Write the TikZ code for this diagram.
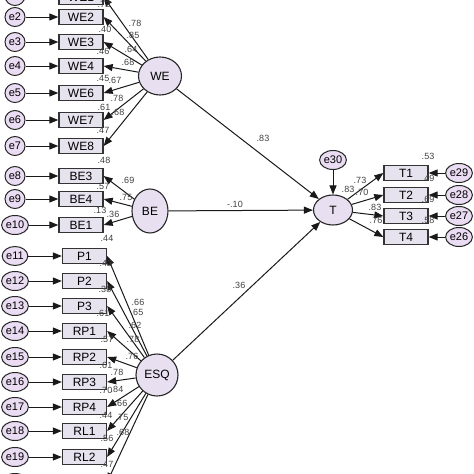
\documentclass[tikz,border=0pt]{standalone}
\usepackage{fontspec}
\setmainfont{Liberation Sans}
\usetikzlibrary{shapes.geometric,arrows.meta}

\definecolor{latfill}{HTML}{E8E0F1}
\definecolor{boxfill}{HTML}{E6E3EF}
\definecolor{errfill}{HTML}{EADCF2}

\begin{document}
\begin{tikzpicture}[x=1pt, y=-1pt,
    lat/.style={ellipse, draw=black!85, fill=latfill, line width=1.1pt, inner sep=0pt, font=\fontsize{12}{13}\selectfont},
    obs/.style={rectangle, draw=black!80, fill=boxfill, line width=1.3pt, minimum width=44pt, minimum height=15pt, inner sep=0pt, font=\fontsize{12}{13}\selectfont},
    err/.style={ellipse, draw=black!85, fill=errfill, line width=1pt, minimum width=20pt, minimum height=19pt, inner sep=0.3pt, font=\fontsize{11}{12}\selectfont},
    coef/.style={inner sep=0pt, text=black!75, font=\fontsize{9}{10}\selectfont},
    path/.style={-{Triangle[length=9pt,width=7pt]}, line width=1pt, draw=black!90}]
    \useasboundingbox (0,0) rectangle (474,474);
    \clip (0,0) rectangle (474,474);

    % latent variables
    \node[lat, minimum width=43pt, minimum height=38pt] (WE) at (160,76) {WE};
    \node[lat, minimum width=36pt, minimum height=44pt] (BE) at (150,211) {BE};
    \node[lat, minimum width=42pt, minimum height=42pt] (ESQ) at (157,375) {ESQ};
    \node[lat, minimum width=39pt, minimum height=30pt] (T) at (333,210) {T};
    \node[err] (e30) at (333,160) {e30};

    % WE indicators
    \node[obs] (WE1) at (81,-3) {WE1};
    \node[obs] (WE2) at (81,17) {WE2};
    \node[obs] (WE3) at (81,42) {WE3};
    \node[obs] (WE4) at (81,66) {WE4};
    \node[obs] (WE6) at (81,93) {WE6};
    \node[obs] (WE7) at (81,120) {WE7};
    \node[obs] (WE8) at (81,146) {WE8};
    \node[err] (e1) at (15,-4) {e1};
    \node[err] (e2) at (15,17) {e2};
    \node[err] (e3) at (15,42) {e3};
    \node[err] (e4) at (15,66) {e4};
    \node[err] (e5) at (15,93) {e5};
    \node[err] (e6) at (15,120) {e6};
    \node[err] (e7) at (15,146) {e7};

    % BE indicators
    \node[obs] (BE3) at (81,176) {BE3};
    \node[obs] (BE4) at (81,199) {BE4};
    \node[obs] (BE1) at (81,225) {BE1};
    \node[err] (e8) at (15,176) {e8};
    \node[err] (e9) at (15,199) {e9};
    \node[err] (e10) at (15,225) {e10};

    % ESQ indicators
    \node[obs] (P1) at (84.5,256) {P1};
    \node[obs] (P2) at (84.5,281) {P2};
    \node[obs] (P3) at (84.5,306) {P3};
    \node[obs] (RP1) at (84.5,331) {RP1};
    \node[obs] (RP2) at (84.5,357) {RP2};
    \node[obs] (RP3) at (84.5,382) {RP3};
    \node[obs] (RP4) at (84.5,407) {RP4};
    \node[obs] (RL1) at (84.5,431) {RL1};
    \node[obs] (RL2) at (84.5,457) {RL2};
    \node[obs] (RL3) at (84.5,482) {RL3};
    \node[err] (e11) at (15,256) {e11};
    \node[err] (e12) at (15,281) {e12};
    \node[err] (e13) at (15,306) {e13};
    \node[err] (e14) at (15,331) {e14};
    \node[err] (e15) at (15,357) {e15};
    \node[err] (e16) at (15,382) {e16};
    \node[err] (e17) at (15,407) {e17};
    \node[err] (e18) at (15,431) {e18};
    \node[err] (e19) at (15,457) {e19};
    \node[err] (e20) at (15,483) {e20};

    % T indicators
    \node[obs] (T1) at (406,173) {T1};
    \node[obs] (T2) at (406,195) {T2};
    \node[obs] (T3) at (406,216) {T3};
    \node[obs] (T4) at (406,237) {T4};
    \node[err] (e29) at (459,173) {e29};
    \node[err] (e28) at (459,195) {e28};
    \node[err] (e27) at (459,216) {e27};
    \node[err] (e26) at (459,237) {e26};

    % structural paths
    \draw[path] (WE) -- (T);
    \draw[path] (BE) -- (T);
    \draw[path] (ESQ) -- (T);
    \draw[path] (e30) -- (T);

    % loadings
    \draw[path] (WE) -- (WE1.east);
    \draw[path] (WE) -- (WE2.east);
    \draw[path] (WE) -- (WE3.east);
    \draw[path] (WE) -- (WE4.east);
    \draw[path] (WE) -- (WE6.east);
    \draw[path] (WE) -- (WE7.east);
    \draw[path] (WE) -- (WE8.east);
    \draw[path] (BE) -- (BE3.east);
    \draw[path] (BE) -- (BE4.east);
    \draw[path] (BE) -- (BE1.east);
    \draw[path] (ESQ) -- (P1.east);
    \draw[path] (ESQ) -- (P2.east);
    \draw[path] (ESQ) -- (P3.east);
    \draw[path] (ESQ) -- (RP1.east);
    \draw[path] (ESQ) -- (RP2.east);
    \draw[path] (ESQ) -- (RP3.east);
    \draw[path] (ESQ) -- (RP4.east);
    \draw[path] (ESQ) -- (RL1.east);
    \draw[path] (ESQ) -- (RL2.east);
    \draw[path] (ESQ) -- (RL3.east);
    \draw[path] (T) -- (T1.west);
    \draw[path] (T) -- (T2.west);
    \draw[path] (T) -- (T3.west);
    \draw[path] (T) -- (T4.west);

    % errors
    \draw[path] (e1) -- (WE1);
    \draw[path] (e2) -- (WE2);
    \draw[path] (e3) -- (WE3);
    \draw[path] (e4) -- (WE4);
    \draw[path] (e5) -- (WE6);
    \draw[path] (e6) -- (WE7);
    \draw[path] (e7) -- (WE8);
    \draw[path] (e8) -- (BE3);
    \draw[path] (e9) -- (BE4);
    \draw[path] (e10) -- (BE1);
    \draw[path] (e11) -- (P1);
    \draw[path] (e12) -- (P2);
    \draw[path] (e13) -- (P3);
    \draw[path] (e14) -- (RP1);
    \draw[path] (e15) -- (RP2);
    \draw[path] (e16) -- (RP3);
    \draw[path] (e17) -- (RP4);
    \draw[path] (e18) -- (RL1);
    \draw[path] (e19) -- (RL2);
    \draw[path] (e20) -- (RL3);
    \draw[path] (e29) -- (T1);
    \draw[path] (e28) -- (T2);
    \draw[path] (e27) -- (T3);
    \draw[path] (e26) -- (T4);

    % path coefficients
    \node[coef] (bWE) at (263,138) {.83};
    \node[coef] (bBE) at (235,204) {-.10};
    \node[coef] (bESQ) at (239,285) {.36};
    \node[coef] (rT) at (348,189) {.83};

    % WE and BE estimates
    \node[coef] (wWE1) at (135,23) {.78};
    \node[coef] (wWE2) at (133,35) {.85};
    \node[coef] (wWE3) at (131,49) {.64};
    \node[coef] (wWE4) at (128,62) {.68};
    \node[coef] (wWE6) at (115,80) {.67};
    \node[coef] (wWE7) at (117,98) {.78};
    \node[coef] (wWE8) at (118,112) {.68};
    \node[coef] (rWE2) at (104,4) {.72};
    \node[coef] (rWE3) at (105,29) {.40};
    \node[coef] (rWE4) at (103,51) {.46};
    \node[coef] (rWE6) at (103,78) {.45};
    \node[coef] (rWE7) at (104,107) {.61};
    \node[coef] (rWE8) at (103,130) {.47};
    \node[coef] (wBE3) at (128,180) {.69};
    \node[coef] (wBE4) at (126,197) {.75};
    \node[coef] (wBE1) at (113,214) {.36};
    \node[coef] (rBE3) at (104,160) {.48};
    \node[coef] (rBE4) at (103,186) {.57};
    \node[coef] (rBE1) at (100,210) {.13};

    % ESQ estimates
    \node[coef] (wP1) at (138,302) {.66};
    \node[coef] (wP2) at (137,312) {.65};
    \node[coef] (wP3) at (135,325) {.62};
    \node[coef] (wRP1) at (133,339) {.78};
    \node[coef] (wRP2) at (132,356) {.76};
    \node[coef] (wRP3) at (117,372) {.78};
    \node[coef] (wRP4) at (117,389) {.84};
    \node[coef] (wRL1) at (121,403) {.66};
    \node[coef] (wRL2) at (122,417) {.75};
    \node[coef] (wRL3) at (123,432) {.68};
    \node[coef] (rP1) at (107,238) {.44};
    \node[coef] (rP2) at (106,263) {.43};
    \node[coef] (rP3) at (105,289) {.38};
    \node[coef] (rRP1) at (103,313) {.61};
    \node[coef] (rRP2) at (107,339) {.57};
    \node[coef] (rRP3) at (106,365) {.61};
    \node[coef] (rRP4) at (106,390) {.70};
    \node[coef] (rRL1) at (106,415) {.44};
    \node[coef] (rRL2) at (107,438) {.56};
    \node[coef] (rRL3) at (107,464) {.47};

    % T estimates
    \node[coef] (wT1) at (360,180) {.73};
    \node[coef] (wT2) at (362,192) {.70};
    \node[coef] (wT3) at (375,207) {.83};
    \node[coef] (wT4) at (376,220) {.76};
    \node[coef] (rT1) at (428,156) {.53};
    \node[coef] (rT2) at (428,178) {.49};
    \node[coef] (rT3) at (428,199) {.69};
    \node[coef] (rT4) at (428,220) {.58};
\end{tikzpicture}
\end{document}
